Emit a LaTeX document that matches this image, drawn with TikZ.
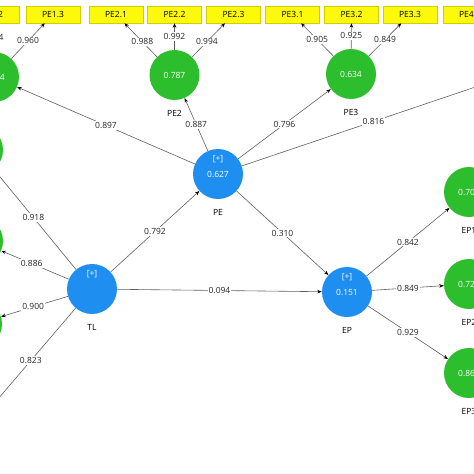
\documentclass[tikz,border=0pt]{standalone}
\usepackage{fontspec}
\setmainfont{Open Sans}
\usepackage{tikz}
\usetikzlibrary{arrows.meta}
\definecolor{lvblue}{RGB}{30,142,240}
\definecolor{lvgreen}{RGB}{44,190,44}
\definecolor{indyellow}{RGB}{252,250,10}
\definecolor{indedge}{RGB}{212,204,0}
\definecolor{pathgray}{RGB}{95,95,95}
\newcommand{\plsfont}{\fontsize{8.5}{10}\selectfont}
\tikzset{
every picture/.style={
line width=0.6pt
},
lv/.style={circle, fill=lvblue, minimum size=50pt, inner sep=0pt, text=white, font=\plsfont},
grn/.style={lv, fill=lvgreen},
ind/.style={rectangle, fill=indyellow, draw=indedge, line width=0.5pt, minimum width=54pt, minimum height=17pt, inner sep=0pt, font=\plsfont},
nm/.style={font=\plsfont, inner sep=0pt, label distance=9.5pt},
plus/.style={font=\plsfont, text=white, inner sep=0pt, yshift=15pt},
path/.style={draw=pathgray, -{Stealth[length=4.5pt, width=3.6pt, color=black]}},
wt/.style={fill=white, inner sep=1pt, font=\plsfont, text=black!85}
}

\begin{document}
\begin{tikzpicture}[x=1pt, y=-1pt]
      \useasboundingbox (0,0) rectangle (474,474);
      \clip (0,0) rectangle (474,474);
      % indicators
      \node[ind] (PE12) at (-8,14.5) {PE1.2};
      \node[ind] (PE13) at (53,14.5) {PE1.3};
      \node[ind] (PE21) at (116,14.5) {PE2.1};
      \node[ind] (PE22) at (174.5,14.5) {PE2.2};
      \node[ind] (PE23) at (233.5,14.5) {PE2.3};
      \node[ind] (PE31) at (292.5,14.5) {PE3.1};
      \node[ind] (PE32) at (351.5,14.5) {PE3.2};
      \node[ind] (PE33) at (410,14.5) {PE3.3};
      \node[ind] (PE41) at (470,14.5) {PE4.1};
      % first order constructs
      \node[grn] (PE1) at (-6,77) {0.804};
      \node[grn, label={[nm]below:PE2}] (PE2) at (174.5,75) {0.787};
      \node[grn, label={[nm]below:PE3}] (PE3) at (351,74) {0.634};
      \coordinate (PE4) at (505,77);
      \node[grn] (L1) at (-22,150) {};
      \node[grn] (L2) at (-22,241) {};
      \node[grn] (L3) at (-23,324) {};
      \coordinate (L4) at (-14,413);
      \node[grn, label={[nm]below:EP1}] (EP1) at (469,192) {0.708};
      \node[grn, label={[nm]below:EP2}] (EP2) at (469,284) {0.721};
      \node[grn, label={[nm]below:EP3}] (EP3) at (469,373) {0.862};
      % second order constructs
      \node[lv, label={[nm]below:PE}, label={[plus]center:{[+]}}] (PE) at (218,174) {0.627};
      \node[lv, label={[nm]below:TL}, label={[plus]center:{[+]}}] (TL) at (92,289) {};
      \node[lv, label={[nm]below:EP}, label={[plus]center:{[+]}}] (EP) at (347,292) {0.151};
      % loadings
      \draw[path] (PE1) -- node[wt] {0.954} (PE12);
      \draw[path] (PE1) -- node[wt] {0.960} (PE13);
      \draw[path] (PE2) -- node[wt, pos=0.45] {0.988} (PE21);
      \draw[path] (PE2) -- node[wt] {0.992} (PE22);
      \draw[path] (PE2) -- node[wt, pos=0.45] {0.994} (PE23);
      \draw[path] (PE3) -- node[wt] {0.905} (PE31);
      \draw[path] (PE3) -- node[wt] {0.925} (PE32);
      \draw[path] (PE3) -- node[wt] {0.849} (PE33);
      \draw[path] (PE) -- node[wt] {0.897} (PE1);
      \draw[path] (PE) -- node[wt] {0.887} (PE2);
      \draw[path] (PE) -- node[wt] {0.796} (PE3);
      \draw[path] (PE) -- node[wt] {0.816} (PE4);
      \draw[path] (TL) -- node[wt, pos=0.52] {0.918} (L1);
      \draw[path] (TL) -- node[wt, pos=0.55] {0.886} (L2);
      \draw[path] (TL) -- node[wt, pos=0.52] {0.900} (L3);
      \draw[path] (TL) -- node[wt] {0.823} (L4);
      \draw[path] (EP) -- node[wt] {0.842} (EP1);
      \draw[path] (EP) -- node[wt] {0.849} (EP2);
      \draw[path] (EP) -- node[wt] {0.929} (EP3);
      % structural paths
      \draw[path] (TL) -- node[wt] {0.792} (PE);
      \draw[path] (TL) -- node[wt] {0.094} (EP);
      \draw[path] (PE) -- node[wt] {0.310} (EP);
\end{tikzpicture}
\end{document}
